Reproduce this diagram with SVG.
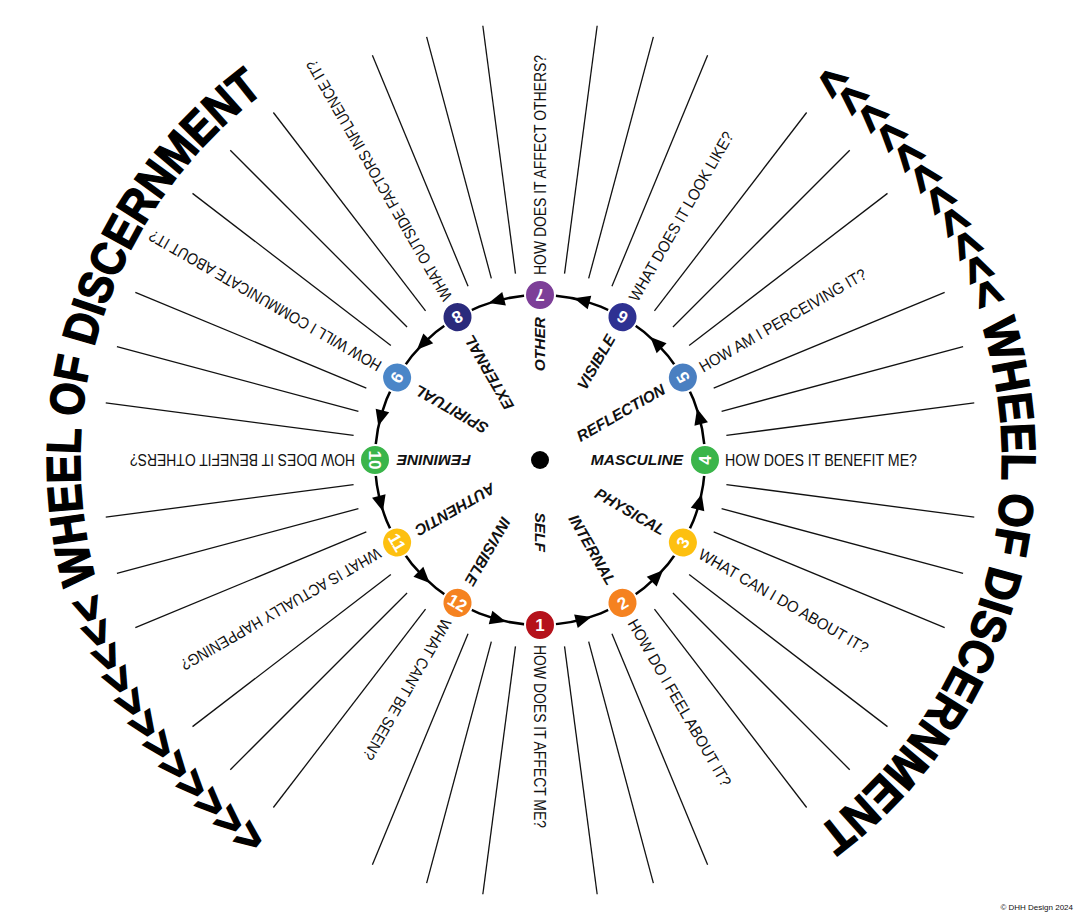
<svg xmlns="http://www.w3.org/2000/svg" xmlns:xlink="http://www.w3.org/1999/xlink" width="1080" height="919" viewBox="0 0 1080 919">
<style>
.q{font-family:"Liberation Sans",Arial,sans-serif;font-size:16px;fill:#111;}
.i{font-family:"Liberation Sans",Arial,sans-serif;font-size:15.5px;font-weight:bold;font-style:italic;fill:#111;}
.d{font-family:"Liberation Sans",Arial,sans-serif;font-size:17px;font-weight:bold;fill:#fff;text-anchor:middle;}
.t{font-family:"Liberation Sans",Arial,sans-serif;font-size:48px;font-weight:bold;fill:#000;stroke:#000;stroke-width:1.4;}
.ray{stroke:#111;stroke-width:1.3;}
.nc{stroke:#fff;stroke-width:2;}
</style>
<defs>
<path id="arcL" d="M 269.6 832.1 A 460 460 0 0 1 269.6 87.9"/>
<path id="arcR" d="M 811.6 86.2 A 462 462 0 0 1 811.6 833.8"/>
<line id="r" x1="728" y1="460" x2="978" y2="460" class="ray"/>
<polygon id="ar" points="705,451 698,467 712,467" fill="#000"/>
</defs>
<rect width="1080" height="919" fill="#fff"/>
<g id="titles">
<text class="t"><textPath xlink:href="#arcL" textLength="860" lengthAdjust="spacingAndGlyphs">&lt;&lt;&lt;&lt;&lt;&lt;&lt;&lt;&lt;&lt;&lt;&lt; WHEEL OF DISCERNMENT</textPath></text>
<text class="t"><textPath xlink:href="#arcR" textLength="865" lengthAdjust="spacingAndGlyphs">&lt;&lt;&lt;&lt;&lt;&lt;&lt;&lt;&lt;&lt;&lt; WHEEL OF DISCERNMENT</textPath></text>
</g>
<g id="connectors">
<g id="rays">
<use xlink:href="#r" transform="rotate(7.5 540 460)"/><use xlink:href="#r" transform="rotate(15 540 460)"/><use xlink:href="#r" transform="rotate(22.5 540 460)"/>
<use xlink:href="#r" transform="rotate(37.5 540 460)"/><use xlink:href="#r" transform="rotate(45 540 460)"/><use xlink:href="#r" transform="rotate(52.5 540 460)"/>
<use xlink:href="#r" transform="rotate(67.5 540 460)"/><use xlink:href="#r" transform="rotate(75 540 460)"/><use xlink:href="#r" transform="rotate(82.5 540 460)"/>
<use xlink:href="#r" transform="rotate(97.5 540 460)"/><use xlink:href="#r" transform="rotate(105 540 460)"/><use xlink:href="#r" transform="rotate(112.5 540 460)"/>
<use xlink:href="#r" transform="rotate(127.5 540 460)"/><use xlink:href="#r" transform="rotate(135 540 460)"/><use xlink:href="#r" transform="rotate(142.5 540 460)"/>
<use xlink:href="#r" transform="rotate(157.5 540 460)"/><use xlink:href="#r" transform="rotate(165 540 460)"/><use xlink:href="#r" transform="rotate(172.5 540 460)"/>
<use xlink:href="#r" transform="rotate(187.5 540 460)"/><use xlink:href="#r" transform="rotate(195 540 460)"/><use xlink:href="#r" transform="rotate(202.5 540 460)"/>
<use xlink:href="#r" transform="rotate(217.5 540 460)"/><use xlink:href="#r" transform="rotate(225 540 460)"/><use xlink:href="#r" transform="rotate(232.5 540 460)"/>
<use xlink:href="#r" transform="rotate(247.5 540 460)"/><use xlink:href="#r" transform="rotate(255 540 460)"/><use xlink:href="#r" transform="rotate(262.5 540 460)"/>
<use xlink:href="#r" transform="rotate(277.5 540 460)"/><use xlink:href="#r" transform="rotate(285 540 460)"/><use xlink:href="#r" transform="rotate(292.5 540 460)"/>
<use xlink:href="#r" transform="rotate(307.5 540 460)"/><use xlink:href="#r" transform="rotate(315 540 460)"/><use xlink:href="#r" transform="rotate(322.5 540 460)"/>
<use xlink:href="#r" transform="rotate(337.5 540 460)"/><use xlink:href="#r" transform="rotate(345 540 460)"/><use xlink:href="#r" transform="rotate(352.5 540 460)"/>
</g>
<circle cx="540" cy="460" r="165" fill="none" stroke="#000" stroke-width="2.5"/>
<g id="arrows">
<use xlink:href="#ar" transform="rotate(15 540 460)"/><use xlink:href="#ar" transform="rotate(45 540 460)"/><use xlink:href="#ar" transform="rotate(75 540 460)"/>
<use xlink:href="#ar" transform="rotate(105 540 460)"/><use xlink:href="#ar" transform="rotate(135 540 460)"/><use xlink:href="#ar" transform="rotate(165 540 460)"/>
<use xlink:href="#ar" transform="rotate(195 540 460)"/><use xlink:href="#ar" transform="rotate(225 540 460)"/><use xlink:href="#ar" transform="rotate(255 540 460)"/>
<use xlink:href="#ar" transform="rotate(285 540 460)"/><use xlink:href="#ar" transform="rotate(315 540 460)"/><use xlink:href="#ar" transform="rotate(345 540 460)"/>
</g>
</g>
<circle id="center" cx="540" cy="460" r="9" fill="#000"/>
<g id="n1" transform="rotate(90 540 460)"><circle cx="705" cy="460" r="15" fill="#b5121b" class="nc"/><text class="d" x="705" y="466" transform="rotate(-90 705 460)">1</text><text class="q" x="725" y="466" textLength="183" lengthAdjust="spacingAndGlyphs">HOW DOES IT AFFECT ME?</text><text class="i" x="632" y="465" text-anchor="end">SELF</text></g>
<g id="n2" transform="rotate(60 540 460)"><circle cx="705" cy="460" r="15" fill="#f58220" class="nc"/><text class="d" x="705" y="466" transform="rotate(-90 705 460)">2</text><text class="q" x="725" y="466" textLength="190" lengthAdjust="spacingAndGlyphs">HOW DO I FEEL ABOUT IT?</text><text class="i" x="683" y="465" text-anchor="end">INTERNAL</text></g>
<g id="n3" transform="rotate(30 540 460)"><circle cx="705" cy="460" r="15" fill="#fdc010" class="nc"/><text class="d" x="705" y="466" transform="rotate(-90 705 460)">3</text><text class="q" x="725" y="466" textLength="193" lengthAdjust="spacingAndGlyphs">WHAT CAN I DO ABOUT IT?</text><text class="i" x="683" y="465" text-anchor="end">PHYSICAL</text></g>
<g id="n4"><circle cx="705" cy="460" r="15" fill="#3ab54a" class="nc"/><text class="d" x="705" y="466" transform="rotate(-90 705 460)">4</text><text class="q" x="725" y="466" textLength="192" lengthAdjust="spacingAndGlyphs">HOW DOES IT BENEFIT ME?</text><text class="i" x="683" y="465" text-anchor="end">MASCULINE</text></g>
<g id="n5" transform="rotate(-30 540 460)"><circle cx="705" cy="460" r="15" fill="#4a7fc1" class="nc"/><text class="d" x="705" y="466" transform="rotate(-90 705 460)">5</text><text class="q" x="725" y="466" textLength="190" lengthAdjust="spacingAndGlyphs">HOW AM I PERCEIVING IT?</text><text class="i" x="683" y="465" text-anchor="end">REFLECTION</text></g>
<g id="n6" transform="rotate(-60 540 460)"><circle cx="705" cy="460" r="15" fill="#2e3192" class="nc"/><text class="d" x="705" y="466" transform="rotate(-90 705 460)">6</text><text class="q" x="725" y="466" textLength="193" lengthAdjust="spacingAndGlyphs">WHAT DOES IT LOOK LIKE?</text><text class="i" x="683" y="465" text-anchor="end">VISIBLE</text></g>
<g id="n7" transform="rotate(-90 540 460)"><circle cx="705" cy="460" r="15" fill="#7d3f98" class="nc"/><text class="d" x="705" y="466" transform="rotate(-90 705 460)">7</text><text class="q" x="725" y="466" textLength="220" lengthAdjust="spacingAndGlyphs">HOW DOES IT AFFECT OTHERS?</text><text class="i" x="683" y="465" text-anchor="end">OTHER</text></g>
<g id="n8" transform="rotate(-120 540 460)"><circle cx="705" cy="460" r="15" fill="#2a2a7c" class="nc"/><text class="d" x="705" y="466" transform="rotate(-90 705 460)">8</text><text class="q" x="725" y="466" textLength="275" lengthAdjust="spacingAndGlyphs">WHAT OUTSIDE FACTORS INFLUENCE IT?</text><text class="i" x="683" y="465" text-anchor="end">EXTERNAL</text></g>
<g id="n9" transform="rotate(-150 540 460)"><circle cx="705" cy="460" r="15" fill="#4a86c8" class="nc"/><text class="d" x="705" y="466" transform="rotate(-90 705 460)">9</text><text class="q" x="725" y="466" textLength="265" lengthAdjust="spacingAndGlyphs">HOW WILL I COMMUNICATE ABOUT IT?</text><text class="i" x="683" y="465" text-anchor="end">SPIRITUAL</text></g>
<g id="n10" transform="rotate(180 540 460)"><circle cx="705" cy="460" r="15" fill="#3ab54a" class="nc"/><text class="d" x="705" y="466" transform="rotate(-90 705 460)">10</text><text class="q" x="725" y="466" textLength="225" lengthAdjust="spacingAndGlyphs">HOW DOES IT BENEFIT OTHERS?</text><text class="i" x="683" y="465" text-anchor="end">FEMININE</text></g>
<g id="n11" transform="rotate(150 540 460)"><circle cx="705" cy="460" r="15" fill="#fdc010" class="nc"/><text class="d" x="705" y="466" transform="rotate(-90 705 460)">11</text><text class="q" x="725" y="466" textLength="228" lengthAdjust="spacingAndGlyphs">WHAT IS ACTUALLY HAPPENING?</text><text class="i" x="683" y="465" text-anchor="end">AUTHENTIC</text></g>
<g id="n12" transform="rotate(120 540 460)"><circle cx="705" cy="460" r="15" fill="#f58220" class="nc"/><text class="d" x="705" y="466" transform="rotate(-90 705 460)">12</text><text class="q" x="725" y="466" textLength="160" lengthAdjust="spacingAndGlyphs">WHAT CAN'T BE SEEN?</text><text class="i" x="683" y="465" text-anchor="end">INVISIBLE</text></g>
<text x="1073" y="910" text-anchor="end" style="font-family:'Liberation Sans',Arial,sans-serif;font-size:8px;fill:#111">© DHH Design 2024</text>
</svg>
